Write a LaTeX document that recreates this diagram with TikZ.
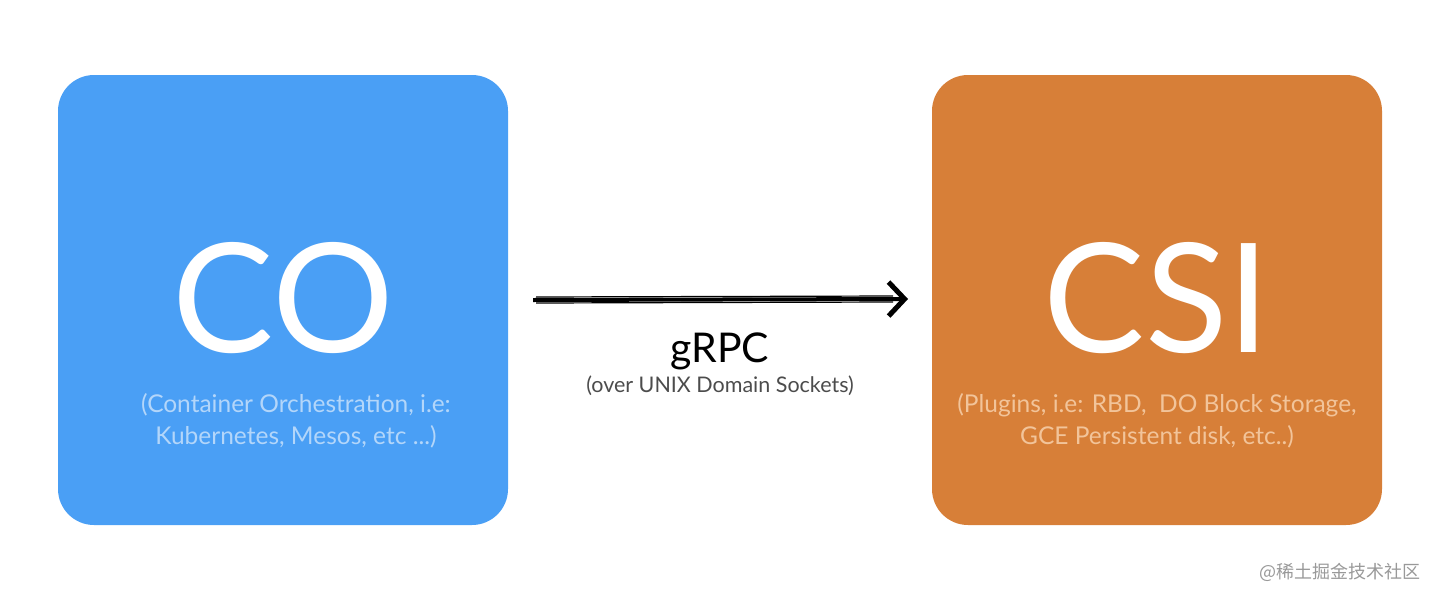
\documentclass[tikz,border=0pt]{standalone}
\usepackage{fontspec}
\setmainfont{Lato}
\newfontfamily\cjk{Noto Sans CJK SC}
\usetikzlibrary{arrows.meta}
\definecolor{coblue}{HTML}{4A9FF5}
\definecolor{coblueTxt}{HTML}{B3D6FA}
\definecolor{csiorange}{HTML}{D77F38}
\definecolor{csiTxt}{HTML}{F2C49A}
\begin{document}
\begin{tikzpicture}[x=1pt,y=-1pt,
  box/.style={rounded corners=36pt, minimum width=450pt, minimum height=450pt, inner sep=0pt},
  big/.style={text=white, font=\fontsize{152}{152}\selectfont},
  sub/.style={font=\fontsize{24.5}{32}\selectfont, align=center}]
\useasboundingbox (0,0) rectangle (1440,600);
\node[box, fill=coblue] (co) at (283,300) {};
\node[box, fill=csiorange] (csi) at (1157,300) {};
\node[big] (cot) at (283,298) {CO};
\node[big] (csit) at (1157,298) {CSI};
\node[sub, text=coblueTxt] (cos) at (296,421) {(Container Orchestration, i.e:\\Kubernetes, Mesos, etc ...)};
\node[sub, text=csiTxt] (csis) at (1157,421) {(Plugins, i.e: RBD,\ \ DO Block Storage,\\GCE Persistent disk, etc..)};
\coordinate (a) at (533,300);
\coordinate (b) at (908,299);
\draw[line width=4pt, -{Straight Barb[length=16pt,width=34pt,line width=5pt]}] (a) -- (b);
\draw[line width=1.2pt] (536,297) -- (893,296);
\draw[line width=1.2pt] (536,303) -- (893,302);
\node[font=\fontsize{41}{41}\selectfont] (g) at (720,351) {gRPC};
\node[font=\fontsize{21.5}{21.5}\selectfont, text=black!70] (u) at (720,386) {(over UNIX Domain Sockets)};
\node[font=\cjk\fontsize{18}{18}\selectfont, text=black!40] (w) at (1340,572) {@稀土掘金技术社区};
\end{tikzpicture}
\end{document}
